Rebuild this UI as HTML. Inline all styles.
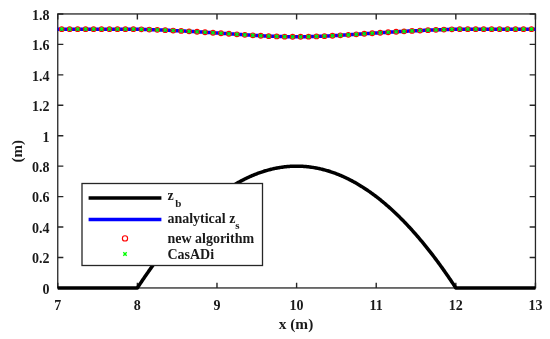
<!DOCTYPE html>
<html><head><meta charset="utf-8"><style>
html,body{margin:0;padding:0;background:#fff;}
body{width:550px;height:339px;overflow:hidden;}
svg{display:block;}
text{font-family:"Liberation Serif",serif;font-weight:bold;font-size:14px;fill:#1a1a1a;}
</style></head><body>
<svg width="550" height="339" viewBox="0 0 550 339">
<rect width="550" height="339" fill="#fff"/>
<rect x="57.75" y="13.95" width="477.70" height="274.00" fill="none" stroke="#262626" stroke-width="1.3"/>
<path d="M57.75,287.95V282.75M57.75,13.95V19.55M137.37,287.95V282.75M137.37,13.95V19.55M216.98,287.95V282.75M216.98,13.95V19.55M296.60,287.95V282.75M296.60,13.95V19.55M376.22,287.95V282.75M376.22,13.95V19.55M455.83,287.95V282.75M455.83,13.95V19.55M535.45,287.95V282.75M535.45,13.95V19.55M57.75,287.95H63.35M535.45,287.95H529.65M57.75,257.51H63.35M535.45,257.51H529.65M57.75,227.06H63.35M535.45,227.06H529.65M57.75,196.62H63.35M535.45,196.62H529.65M57.75,166.17H63.35M535.45,166.17H529.65M57.75,135.73H63.35M535.45,135.73H529.65M57.75,105.28H63.35M535.45,105.28H529.65M57.75,74.84H63.35M535.45,74.84H529.65M57.75,44.39H63.35M535.45,44.39H529.65M57.75,13.95H63.35M535.45,13.95H529.65" stroke="#262626" stroke-width="1.4" fill="none"/>
<polyline points="57.75,287.95 58.55,287.95 59.34,287.95 60.14,287.95 60.93,287.95 61.73,287.95 62.53,287.95 63.32,287.95 64.12,287.95 64.92,287.95 65.71,287.95 66.51,287.95 67.30,287.95 68.10,287.95 68.90,287.95 69.69,287.95 70.49,287.95 71.28,287.95 72.08,287.95 72.88,287.95 73.67,287.95 74.47,287.95 75.27,287.95 76.06,287.95 76.86,287.95 77.65,287.95 78.45,287.95 79.25,287.95 80.04,287.95 80.84,287.95 81.63,287.95 82.43,287.95 83.23,287.95 84.02,287.95 84.82,287.95 85.62,287.95 86.41,287.95 87.21,287.95 88.00,287.95 88.80,287.95 89.60,287.95 90.39,287.95 91.19,287.95 91.99,287.95 92.78,287.95 93.58,287.95 94.37,287.95 95.17,287.95 95.97,287.95 96.76,287.95 97.56,287.95 98.35,287.95 99.15,287.95 99.95,287.95 100.74,287.95 101.54,287.95 102.34,287.95 103.13,287.95 103.93,287.95 104.72,287.95 105.52,287.95 106.32,287.95 107.11,287.95 107.91,287.95 108.70,287.95 109.50,287.95 110.30,287.95 111.09,287.95 111.89,287.95 112.69,287.95 113.48,287.95 114.28,287.95 115.07,287.95 115.87,287.95 116.67,287.95 117.46,287.95 118.26,287.95 119.05,287.95 119.85,287.95 120.65,287.95 121.44,287.95 122.24,287.95 123.04,287.95 123.83,287.95 124.63,287.95 125.42,287.95 126.22,287.95 127.02,287.95 127.81,287.95 128.61,287.95 129.41,287.95 130.20,287.95 131.00,287.95 131.79,287.95 132.59,287.95 133.39,287.95 134.18,287.95 134.98,287.95 135.77,287.95 136.57,287.95 137.37,287.95 138.16,286.74 138.96,285.53 139.76,284.32 140.55,283.13 141.35,281.94 142.14,280.75 142.94,279.57 143.74,278.40 144.53,277.24 145.33,276.08 146.12,274.92 146.92,273.78 147.72,272.63 148.51,271.50 149.31,270.37 150.11,269.24 150.90,268.13 151.70,267.02 152.49,265.91 153.29,264.81 154.09,263.72 154.88,262.63 155.68,261.55 156.47,260.48 157.27,259.41 158.07,258.35 158.86,257.29 159.66,256.24 160.46,255.19 161.25,254.16 162.05,253.12 162.84,252.10 163.64,251.08 164.44,250.06 165.23,249.06 166.03,248.06 166.82,247.06 167.62,246.07 168.42,245.09 169.21,244.11 170.01,243.14 170.81,242.17 171.60,241.21 172.40,240.26 173.19,239.32 173.99,238.37 174.79,237.44 175.58,236.51 176.38,235.59 177.18,234.67 177.97,233.76 178.77,232.86 179.56,231.96 180.36,231.07 181.16,230.18 181.95,229.30 182.75,228.43 183.54,227.56 184.34,226.70 185.14,225.84 185.93,224.99 186.73,224.15 187.53,223.31 188.32,222.48 189.12,221.66 189.91,220.84 190.71,220.03 191.51,219.22 192.30,218.42 193.10,217.62 193.89,216.83 194.69,216.05 195.49,215.28 196.28,214.51 197.08,213.74 197.88,212.98 198.67,212.23 199.47,211.49 200.26,210.75 201.06,210.01 201.86,209.28 202.65,208.56 203.45,207.85 204.24,207.14 205.04,206.44 205.84,205.74 206.63,205.05 207.43,204.36 208.23,203.68 209.02,203.01 209.82,202.34 210.61,201.68 211.41,201.03 212.21,200.38 213.00,199.74 213.80,199.10 214.59,198.47 215.39,197.85 216.19,197.23 216.98,196.62 217.78,196.01 218.58,195.41 219.37,194.82 220.17,194.23 220.96,193.65 221.76,193.07 222.56,192.50 223.35,191.94 224.15,191.38 224.94,190.83 225.74,190.29 226.54,189.75 227.33,189.22 228.13,188.69 228.93,188.17 229.72,187.65 230.52,187.15 231.31,186.64 232.11,186.15 232.91,185.66 233.70,185.17 234.50,184.69 235.30,184.22 236.09,183.76 236.89,183.30 237.68,182.84 238.48,182.40 239.28,181.95 240.07,181.52 240.87,181.09 241.66,180.67 242.46,180.25 243.26,179.84 244.05,179.43 244.85,179.04 245.65,178.64 246.44,178.26 247.24,177.88 248.03,177.50 248.83,177.13 249.63,176.77 250.42,176.41 251.22,176.06 252.01,175.72 252.81,175.38 253.61,175.05 254.40,174.72 255.20,174.40 256.00,174.09 256.79,173.78 257.59,173.48 258.38,173.19 259.18,172.90 259.98,172.61 260.77,172.34 261.57,172.07 262.36,171.80 263.16,171.54 263.96,171.29 264.75,171.04 265.55,170.80 266.35,170.57 267.14,170.34 267.94,170.12 268.73,169.90 269.53,169.69 270.33,169.49 271.12,169.29 271.92,169.10 272.71,168.91 273.51,168.73 274.31,168.56 275.10,168.39 275.90,168.23 276.70,168.07 277.49,167.93 278.29,167.78 279.08,167.65 279.88,167.51 280.68,167.39 281.47,167.27 282.27,167.16 283.07,167.05 283.86,166.95 284.66,166.86 285.45,166.77 286.25,166.69 287.05,166.61 287.84,166.54 288.64,166.48 289.43,166.42 290.23,166.37 291.03,166.32 291.82,166.28 292.62,166.25 293.42,166.22 294.21,166.20 295.01,166.18 295.80,166.18 296.60,166.17 297.40,166.18 298.19,166.18 298.99,166.20 299.78,166.22 300.58,166.25 301.38,166.28 302.17,166.32 302.97,166.37 303.77,166.42 304.56,166.48 305.36,166.54 306.15,166.61 306.95,166.69 307.75,166.77 308.54,166.86 309.34,166.95 310.13,167.05 310.93,167.16 311.73,167.27 312.52,167.39 313.32,167.51 314.12,167.65 314.91,167.78 315.71,167.93 316.50,168.07 317.30,168.23 318.10,168.39 318.89,168.56 319.69,168.73 320.49,168.91 321.28,169.10 322.08,169.29 322.87,169.49 323.67,169.69 324.47,169.90 325.26,170.12 326.06,170.34 326.85,170.57 327.65,170.80 328.45,171.04 329.24,171.29 330.04,171.54 330.84,171.80 331.63,172.07 332.43,172.34 333.22,172.61 334.02,172.90 334.82,173.19 335.61,173.48 336.41,173.78 337.20,174.09 338.00,174.40 338.80,174.72 339.59,175.05 340.39,175.38 341.19,175.72 341.98,176.06 342.78,176.41 343.57,176.77 344.37,177.13 345.17,177.50 345.96,177.88 346.76,178.26 347.55,178.64 348.35,179.04 349.15,179.43 349.94,179.84 350.74,180.25 351.54,180.67 352.33,181.09 353.13,181.52 353.92,181.95 354.72,182.40 355.52,182.84 356.31,183.30 357.11,183.76 357.90,184.22 358.70,184.69 359.50,185.17 360.29,185.66 361.09,186.15 361.89,186.64 362.68,187.15 363.48,187.65 364.27,188.17 365.07,188.69 365.87,189.22 366.66,189.75 367.46,190.29 368.26,190.83 369.05,191.38 369.85,191.94 370.64,192.50 371.44,193.07 372.24,193.65 373.03,194.23 373.83,194.82 374.62,195.41 375.42,196.01 376.22,196.62 377.01,197.23 377.81,197.85 378.61,198.47 379.40,199.10 380.20,199.74 380.99,200.38 381.79,201.03 382.59,201.68 383.38,202.34 384.18,203.01 384.97,203.68 385.77,204.36 386.57,205.05 387.36,205.74 388.16,206.44 388.96,207.14 389.75,207.85 390.55,208.56 391.34,209.28 392.14,210.01 392.94,210.75 393.73,211.49 394.53,212.23 395.32,212.98 396.12,213.74 396.92,214.51 397.71,215.28 398.51,216.05 399.31,216.83 400.10,217.62 400.90,218.42 401.69,219.22 402.49,220.03 403.29,220.84 404.08,221.66 404.88,222.48 405.67,223.31 406.47,224.15 407.27,224.99 408.06,225.84 408.86,226.70 409.66,227.56 410.45,228.43 411.25,229.30 412.04,230.18 412.84,231.07 413.64,231.96 414.43,232.86 415.23,233.76 416.03,234.67 416.82,235.59 417.62,236.51 418.41,237.44 419.21,238.37 420.01,239.32 420.80,240.26 421.60,241.21 422.39,242.17 423.19,243.14 423.99,244.11 424.78,245.09 425.58,246.07 426.38,247.06 427.17,248.06 427.97,249.06 428.76,250.06 429.56,251.08 430.36,252.10 431.15,253.12 431.95,254.16 432.74,255.19 433.54,256.24 434.34,257.29 435.13,258.35 435.93,259.41 436.73,260.48 437.52,261.55 438.32,262.63 439.11,263.72 439.91,264.81 440.71,265.91 441.50,267.02 442.30,268.13 443.09,269.24 443.89,270.37 444.69,271.50 445.48,272.63 446.28,273.78 447.08,274.92 447.87,276.08 448.67,277.24 449.46,278.40 450.26,279.57 451.06,280.75 451.85,281.94 452.65,283.13 453.44,284.32 454.24,285.53 455.04,286.74 455.83,287.95 456.63,287.95 457.43,287.95 458.22,287.95 459.02,287.95 459.81,287.95 460.61,287.95 461.41,287.95 462.20,287.95 463.00,287.95 463.80,287.95 464.59,287.95 465.39,287.95 466.18,287.95 466.98,287.95 467.78,287.95 468.57,287.95 469.37,287.95 470.16,287.95 470.96,287.95 471.76,287.95 472.55,287.95 473.35,287.95 474.15,287.95 474.94,287.95 475.74,287.95 476.53,287.95 477.33,287.95 478.13,287.95 478.92,287.95 479.72,287.95 480.51,287.95 481.31,287.95 482.11,287.95 482.90,287.95 483.70,287.95 484.50,287.95 485.29,287.95 486.09,287.95 486.88,287.95 487.68,287.95 488.48,287.95 489.27,287.95 490.07,287.95 490.86,287.95 491.66,287.95 492.46,287.95 493.25,287.95 494.05,287.95 494.85,287.95 495.64,287.95 496.44,287.95 497.23,287.95 498.03,287.95 498.83,287.95 499.62,287.95 500.42,287.95 501.21,287.95 502.01,287.95 502.81,287.95 503.60,287.95 504.40,287.95 505.20,287.95 505.99,287.95 506.79,287.95 507.58,287.95 508.38,287.95 509.18,287.95 509.97,287.95 510.77,287.95 511.56,287.95 512.36,287.95 513.16,287.95 513.95,287.95 514.75,287.95 515.55,287.95 516.34,287.95 517.14,287.95 517.93,287.95 518.73,287.95 519.53,287.95 520.32,287.95 521.12,287.95 521.92,287.95 522.71,287.95 523.51,287.95 524.30,287.95 525.10,287.95 525.90,287.95 526.69,287.95 527.49,287.95 528.28,287.95 529.08,287.95 529.88,287.95 530.67,287.95 531.47,287.95 532.27,287.95 533.06,287.95 533.86,287.95 534.65,287.95 535.45,287.95" fill="none" stroke="#000" stroke-width="3.5" stroke-linejoin="round"/>
<polyline points="57.75,29.17 58.55,29.17 59.34,29.17 60.14,29.17 60.93,29.17 61.73,29.17 62.53,29.17 63.32,29.17 64.12,29.17 64.92,29.17 65.71,29.17 66.51,29.17 67.30,29.17 68.10,29.17 68.90,29.17 69.69,29.17 70.49,29.17 71.28,29.17 72.08,29.17 72.88,29.17 73.67,29.17 74.47,29.17 75.27,29.17 76.06,29.17 76.86,29.17 77.65,29.17 78.45,29.17 79.25,29.17 80.04,29.17 80.84,29.17 81.63,29.17 82.43,29.17 83.23,29.17 84.02,29.17 84.82,29.17 85.62,29.17 86.41,29.17 87.21,29.17 88.00,29.17 88.80,29.17 89.60,29.17 90.39,29.17 91.19,29.17 91.99,29.17 92.78,29.17 93.58,29.17 94.37,29.17 95.17,29.17 95.97,29.17 96.76,29.17 97.56,29.17 98.35,29.17 99.15,29.17 99.95,29.17 100.74,29.17 101.54,29.17 102.34,29.17 103.13,29.17 103.93,29.17 104.72,29.17 105.52,29.17 106.32,29.17 107.11,29.17 107.91,29.17 108.70,29.17 109.50,29.17 110.30,29.17 111.09,29.17 111.89,29.17 112.69,29.17 113.48,29.17 114.28,29.17 115.07,29.17 115.87,29.17 116.67,29.17 117.46,29.17 118.26,29.17 119.05,29.17 119.85,29.17 120.65,29.17 121.44,29.17 122.24,29.17 123.04,29.17 123.83,29.17 124.63,29.17 125.42,29.17 126.22,29.17 127.02,29.17 127.81,29.17 128.61,29.17 129.41,29.17 130.20,29.17 131.00,29.17 131.79,29.17 132.59,29.17 133.39,29.17 134.18,29.17 134.98,29.17 135.77,29.17 136.57,29.17 137.37,29.17 138.16,29.20 138.96,29.22 139.76,29.25 140.55,29.27 141.35,29.30 142.14,29.32 142.94,29.35 143.74,29.37 144.53,29.40 145.33,29.43 146.12,29.45 146.92,29.48 147.72,29.51 148.51,29.54 149.31,29.57 150.11,29.59 150.90,29.62 151.70,29.65 152.49,29.68 153.29,29.71 154.09,29.74 154.88,29.77 155.68,29.80 156.47,29.83 157.27,29.86 158.07,29.89 158.86,29.92 159.66,29.95 160.46,29.98 161.25,30.02 162.05,30.05 162.84,30.08 163.64,30.11 164.44,30.15 165.23,30.18 166.03,30.22 166.82,30.25 167.62,30.28 168.42,30.32 169.21,30.35 170.01,30.39 170.81,30.42 171.60,30.46 172.40,30.50 173.19,30.53 173.99,30.57 174.79,30.61 175.58,30.64 176.38,30.68 177.18,30.72 177.97,30.76 178.77,30.80 179.56,30.84 180.36,30.87 181.16,30.91 181.95,30.95 182.75,30.99 183.54,31.03 184.34,31.07 185.14,31.12 185.93,31.16 186.73,31.20 187.53,31.24 188.32,31.28 189.12,31.33 189.91,31.37 190.71,31.41 191.51,31.45 192.30,31.50 193.10,31.54 193.89,31.59 194.69,31.63 195.49,31.68 196.28,31.72 197.08,31.77 197.88,31.81 198.67,31.86 199.47,31.90 200.26,31.95 201.06,32.00 201.86,32.04 202.65,32.09 203.45,32.14 204.24,32.19 205.04,32.23 205.84,32.28 206.63,32.33 207.43,32.38 208.23,32.43 209.02,32.48 209.82,32.53 210.61,32.58 211.41,32.63 212.21,32.68 213.00,32.73 213.80,32.78 214.59,32.83 215.39,32.88 216.19,32.93 216.98,32.98 217.78,33.03 218.58,33.08 219.37,33.13 220.17,33.19 220.96,33.24 221.76,33.29 222.56,33.34 223.35,33.39 224.15,33.45 224.94,33.50 225.74,33.55 226.54,33.60 227.33,33.66 228.13,33.71 228.93,33.76 229.72,33.81 230.52,33.87 231.31,33.92 232.11,33.97 232.91,34.02 233.70,34.08 234.50,34.13 235.30,34.18 236.09,34.23 236.89,34.29 237.68,34.34 238.48,34.39 239.28,34.44 240.07,34.49 240.87,34.55 241.66,34.60 242.46,34.65 243.26,34.70 244.05,34.75 244.85,34.80 245.65,34.85 246.44,34.90 247.24,34.95 248.03,35.00 248.83,35.05 249.63,35.10 250.42,35.15 251.22,35.20 252.01,35.24 252.81,35.29 253.61,35.34 254.40,35.39 255.20,35.43 256.00,35.48 256.79,35.52 257.59,35.57 258.38,35.61 259.18,35.66 259.98,35.70 260.77,35.74 261.57,35.78 262.36,35.82 263.16,35.86 263.96,35.90 264.75,35.94 265.55,35.98 266.35,36.02 267.14,36.06 267.94,36.09 268.73,36.13 269.53,36.16 270.33,36.20 271.12,36.23 271.92,36.26 272.71,36.30 273.51,36.33 274.31,36.36 275.10,36.38 275.90,36.41 276.70,36.44 277.49,36.47 278.29,36.49 279.08,36.52 279.88,36.54 280.68,36.56 281.47,36.58 282.27,36.60 283.07,36.62 283.86,36.64 284.66,36.66 285.45,36.67 286.25,36.69 287.05,36.70 287.84,36.72 288.64,36.73 289.43,36.74 290.23,36.75 291.03,36.76 291.82,36.76 292.62,36.77 293.42,36.77 294.21,36.78 295.01,36.78 295.80,36.78 296.60,36.78 297.40,36.78 298.19,36.78 298.99,36.78 299.78,36.77 300.58,36.77 301.38,36.76 302.17,36.76 302.97,36.75 303.77,36.74 304.56,36.73 305.36,36.72 306.15,36.70 306.95,36.69 307.75,36.67 308.54,36.66 309.34,36.64 310.13,36.62 310.93,36.60 311.73,36.58 312.52,36.56 313.32,36.54 314.12,36.52 314.91,36.49 315.71,36.47 316.50,36.44 317.30,36.41 318.10,36.38 318.89,36.36 319.69,36.33 320.49,36.30 321.28,36.26 322.08,36.23 322.87,36.20 323.67,36.16 324.47,36.13 325.26,36.09 326.06,36.06 326.85,36.02 327.65,35.98 328.45,35.94 329.24,35.90 330.04,35.86 330.84,35.82 331.63,35.78 332.43,35.74 333.22,35.70 334.02,35.66 334.82,35.61 335.61,35.57 336.41,35.52 337.20,35.48 338.00,35.43 338.80,35.39 339.59,35.34 340.39,35.29 341.19,35.24 341.98,35.20 342.78,35.15 343.57,35.10 344.37,35.05 345.17,35.00 345.96,34.95 346.76,34.90 347.55,34.85 348.35,34.80 349.15,34.75 349.94,34.70 350.74,34.65 351.54,34.60 352.33,34.55 353.13,34.49 353.92,34.44 354.72,34.39 355.52,34.34 356.31,34.29 357.11,34.23 357.90,34.18 358.70,34.13 359.50,34.08 360.29,34.02 361.09,33.97 361.89,33.92 362.68,33.87 363.48,33.81 364.27,33.76 365.07,33.71 365.87,33.66 366.66,33.60 367.46,33.55 368.26,33.50 369.05,33.45 369.85,33.39 370.64,33.34 371.44,33.29 372.24,33.24 373.03,33.19 373.83,33.13 374.62,33.08 375.42,33.03 376.22,32.98 377.01,32.93 377.81,32.88 378.61,32.83 379.40,32.78 380.20,32.73 380.99,32.68 381.79,32.63 382.59,32.58 383.38,32.53 384.18,32.48 384.97,32.43 385.77,32.38 386.57,32.33 387.36,32.28 388.16,32.23 388.96,32.19 389.75,32.14 390.55,32.09 391.34,32.04 392.14,32.00 392.94,31.95 393.73,31.90 394.53,31.86 395.32,31.81 396.12,31.77 396.92,31.72 397.71,31.68 398.51,31.63 399.31,31.59 400.10,31.54 400.90,31.50 401.69,31.45 402.49,31.41 403.29,31.37 404.08,31.33 404.88,31.28 405.67,31.24 406.47,31.20 407.27,31.16 408.06,31.12 408.86,31.07 409.66,31.03 410.45,30.99 411.25,30.95 412.04,30.91 412.84,30.87 413.64,30.84 414.43,30.80 415.23,30.76 416.03,30.72 416.82,30.68 417.62,30.64 418.41,30.61 419.21,30.57 420.01,30.53 420.80,30.50 421.60,30.46 422.39,30.42 423.19,30.39 423.99,30.35 424.78,30.32 425.58,30.28 426.38,30.25 427.17,30.22 427.97,30.18 428.76,30.15 429.56,30.11 430.36,30.08 431.15,30.05 431.95,30.02 432.74,29.98 433.54,29.95 434.34,29.92 435.13,29.89 435.93,29.86 436.73,29.83 437.52,29.80 438.32,29.77 439.11,29.74 439.91,29.71 440.71,29.68 441.50,29.65 442.30,29.62 443.09,29.59 443.89,29.57 444.69,29.54 445.48,29.51 446.28,29.48 447.08,29.45 447.87,29.43 448.67,29.40 449.46,29.37 450.26,29.35 451.06,29.32 451.85,29.30 452.65,29.27 453.44,29.25 454.24,29.22 455.04,29.20 455.83,29.17 456.63,29.17 457.43,29.17 458.22,29.17 459.02,29.17 459.81,29.17 460.61,29.17 461.41,29.17 462.20,29.17 463.00,29.17 463.80,29.17 464.59,29.17 465.39,29.17 466.18,29.17 466.98,29.17 467.78,29.17 468.57,29.17 469.37,29.17 470.16,29.17 470.96,29.17 471.76,29.17 472.55,29.17 473.35,29.17 474.15,29.17 474.94,29.17 475.74,29.17 476.53,29.17 477.33,29.17 478.13,29.17 478.92,29.17 479.72,29.17 480.51,29.17 481.31,29.17 482.11,29.17 482.90,29.17 483.70,29.17 484.50,29.17 485.29,29.17 486.09,29.17 486.88,29.17 487.68,29.17 488.48,29.17 489.27,29.17 490.07,29.17 490.86,29.17 491.66,29.17 492.46,29.17 493.25,29.17 494.05,29.17 494.85,29.17 495.64,29.17 496.44,29.17 497.23,29.17 498.03,29.17 498.83,29.17 499.62,29.17 500.42,29.17 501.21,29.17 502.01,29.17 502.81,29.17 503.60,29.17 504.40,29.17 505.20,29.17 505.99,29.17 506.79,29.17 507.58,29.17 508.38,29.17 509.18,29.17 509.97,29.17 510.77,29.17 511.56,29.17 512.36,29.17 513.16,29.17 513.95,29.17 514.75,29.17 515.55,29.17 516.34,29.17 517.14,29.17 517.93,29.17 518.73,29.17 519.53,29.17 520.32,29.17 521.12,29.17 521.92,29.17 522.71,29.17 523.51,29.17 524.30,29.17 525.10,29.17 525.90,29.17 526.69,29.17 527.49,29.17 528.28,29.17 529.08,29.17 529.88,29.17 530.67,29.17 531.47,29.17 532.27,29.17 533.06,29.17 533.86,29.17 534.65,29.17 535.45,29.17" fill="none" stroke="#0000ff" stroke-width="3.5"/>
<g fill="none" stroke="#ff0000" stroke-width="1.2"><circle cx="61.73" cy="29.17" r="2.3"/><circle cx="69.69" cy="29.17" r="2.3"/><circle cx="77.65" cy="29.17" r="2.3"/><circle cx="85.62" cy="29.17" r="2.3"/><circle cx="93.58" cy="29.17" r="2.3"/><circle cx="101.54" cy="29.17" r="2.3"/><circle cx="109.50" cy="29.17" r="2.3"/><circle cx="117.46" cy="29.17" r="2.3"/><circle cx="125.42" cy="29.17" r="2.3"/><circle cx="133.39" cy="29.17" r="2.3"/><circle cx="141.35" cy="29.30" r="2.3"/><circle cx="149.31" cy="29.57" r="2.3"/><circle cx="157.27" cy="29.86" r="2.3"/><circle cx="165.23" cy="30.18" r="2.3"/><circle cx="173.19" cy="30.53" r="2.3"/><circle cx="181.16" cy="30.91" r="2.3"/><circle cx="189.12" cy="31.33" r="2.3"/><circle cx="197.08" cy="31.77" r="2.3"/><circle cx="205.04" cy="32.23" r="2.3"/><circle cx="213.00" cy="32.73" r="2.3"/><circle cx="220.96" cy="33.24" r="2.3"/><circle cx="228.93" cy="33.76" r="2.3"/><circle cx="236.89" cy="34.29" r="2.3"/><circle cx="244.85" cy="34.80" r="2.3"/><circle cx="252.81" cy="35.29" r="2.3"/><circle cx="260.77" cy="35.74" r="2.3"/><circle cx="268.73" cy="36.13" r="2.3"/><circle cx="276.70" cy="36.44" r="2.3"/><circle cx="284.66" cy="36.66" r="2.3"/><circle cx="292.62" cy="36.77" r="2.3"/><circle cx="300.58" cy="36.77" r="2.3"/><circle cx="308.54" cy="36.66" r="2.3"/><circle cx="316.50" cy="36.44" r="2.3"/><circle cx="324.47" cy="36.13" r="2.3"/><circle cx="332.43" cy="35.74" r="2.3"/><circle cx="340.39" cy="35.29" r="2.3"/><circle cx="348.35" cy="34.80" r="2.3"/><circle cx="356.31" cy="34.29" r="2.3"/><circle cx="364.27" cy="33.76" r="2.3"/><circle cx="372.24" cy="33.24" r="2.3"/><circle cx="380.20" cy="32.73" r="2.3"/><circle cx="388.16" cy="32.23" r="2.3"/><circle cx="396.12" cy="31.77" r="2.3"/><circle cx="404.08" cy="31.33" r="2.3"/><circle cx="412.04" cy="30.91" r="2.3"/><circle cx="420.01" cy="30.53" r="2.3"/><circle cx="427.97" cy="30.18" r="2.3"/><circle cx="435.93" cy="29.86" r="2.3"/><circle cx="443.89" cy="29.57" r="2.3"/><circle cx="451.85" cy="29.30" r="2.3"/><circle cx="459.81" cy="29.17" r="2.3"/><circle cx="467.78" cy="29.17" r="2.3"/><circle cx="475.74" cy="29.17" r="2.3"/><circle cx="483.70" cy="29.17" r="2.3"/><circle cx="491.66" cy="29.17" r="2.3"/><circle cx="499.62" cy="29.17" r="2.3"/><circle cx="507.58" cy="29.17" r="2.3"/><circle cx="515.55" cy="29.17" r="2.3"/><circle cx="523.51" cy="29.17" r="2.3"/><circle cx="531.47" cy="29.17" r="2.3"/></g>
<path d="M60.13,27.57L63.33,30.77M60.13,30.77L63.33,27.57M68.09,27.57L71.29,30.77M68.09,30.77L71.29,27.57M76.05,27.57L79.25,30.77M76.05,30.77L79.25,27.57M84.02,27.57L87.22,30.77M84.02,30.77L87.22,27.57M91.98,27.57L95.18,30.77M91.98,30.77L95.18,27.57M99.94,27.57L103.14,30.77M99.94,30.77L103.14,27.57M107.90,27.57L111.10,30.77M107.90,30.77L111.10,27.57M115.86,27.57L119.06,30.77M115.86,30.77L119.06,27.57M123.82,27.57L127.02,30.77M123.82,30.77L127.02,27.57M131.79,27.57L134.99,30.77M131.79,30.77L134.99,27.57M139.75,27.70L142.95,30.90M139.75,30.90L142.95,27.70M147.71,27.97L150.91,31.17M147.71,31.17L150.91,27.97M155.67,28.26L158.87,31.46M155.67,31.46L158.87,28.26M163.63,28.58L166.83,31.78M163.63,31.78L166.83,28.58M171.59,28.93L174.79,32.13M171.59,32.13L174.79,28.93M179.56,29.31L182.76,32.51M179.56,32.51L182.76,29.31M187.52,29.73L190.72,32.93M187.52,32.93L190.72,29.73M195.48,30.17L198.68,33.37M195.48,33.37L198.68,30.17M203.44,30.63L206.64,33.83M203.44,33.83L206.64,30.63M211.40,31.13L214.60,34.33M211.40,34.33L214.60,31.13M219.36,31.64L222.56,34.84M219.36,34.84L222.56,31.64M227.33,32.16L230.53,35.36M227.33,35.36L230.53,32.16M235.29,32.69L238.49,35.89M235.29,35.89L238.49,32.69M243.25,33.20L246.45,36.40M243.25,36.40L246.45,33.20M251.21,33.69L254.41,36.89M251.21,36.89L254.41,33.69M259.17,34.14L262.37,37.34M259.17,37.34L262.37,34.14M267.13,34.53L270.33,37.73M267.13,37.73L270.33,34.53M275.10,34.84L278.30,38.04M275.10,38.04L278.30,34.84M283.06,35.06L286.26,38.26M283.06,38.26L286.26,35.06M291.02,35.17L294.22,38.37M291.02,38.37L294.22,35.17M298.98,35.17L302.18,38.37M298.98,38.37L302.18,35.17M306.94,35.06L310.14,38.26M306.94,38.26L310.14,35.06M314.90,34.84L318.10,38.04M314.90,38.04L318.10,34.84M322.87,34.53L326.07,37.73M322.87,37.73L326.07,34.53M330.83,34.14L334.03,37.34M330.83,37.34L334.03,34.14M338.79,33.69L341.99,36.89M338.79,36.89L341.99,33.69M346.75,33.20L349.95,36.40M346.75,36.40L349.95,33.20M354.71,32.69L357.91,35.89M354.71,35.89L357.91,32.69M362.67,32.16L365.87,35.36M362.67,35.36L365.87,32.16M370.64,31.64L373.84,34.84M370.64,34.84L373.84,31.64M378.60,31.13L381.80,34.33M378.60,34.33L381.80,31.13M386.56,30.63L389.76,33.83M386.56,33.83L389.76,30.63M394.52,30.17L397.72,33.37M394.52,33.37L397.72,30.17M402.48,29.73L405.68,32.93M402.48,32.93L405.68,29.73M410.44,29.31L413.64,32.51M410.44,32.51L413.64,29.31M418.41,28.93L421.61,32.13M418.41,32.13L421.61,28.93M426.37,28.58L429.57,31.78M426.37,31.78L429.57,28.58M434.33,28.26L437.53,31.46M434.33,31.46L437.53,28.26M442.29,27.97L445.49,31.17M442.29,31.17L445.49,27.97M450.25,27.70L453.45,30.90M450.25,30.90L453.45,27.70M458.21,27.57L461.41,30.77M458.21,30.77L461.41,27.57M466.18,27.57L469.38,30.77M466.18,30.77L469.38,27.57M474.14,27.57L477.34,30.77M474.14,30.77L477.34,27.57M482.10,27.57L485.30,30.77M482.10,30.77L485.30,27.57M490.06,27.57L493.26,30.77M490.06,30.77L493.26,27.57M498.02,27.57L501.22,30.77M498.02,30.77L501.22,27.57M505.98,27.57L509.18,30.77M505.98,30.77L509.18,27.57M513.95,27.57L517.15,30.77M513.95,30.77L517.15,27.57M521.91,27.57L525.11,30.77M521.91,30.77L525.11,27.57M529.87,27.57L533.07,30.77M529.87,30.77L533.07,27.57" stroke="#00ff00" stroke-width="1.4" fill="none"/>
<g><text x="49.5" y="293.75" text-anchor="end">0</text><text x="49.5" y="263.31" text-anchor="end">0.2</text><text x="49.5" y="232.86" text-anchor="end">0.4</text><text x="49.5" y="202.42" text-anchor="end">0.6</text><text x="49.5" y="171.97" text-anchor="end">0.8</text><text x="49.5" y="141.53" text-anchor="end">1</text><text x="49.5" y="111.08" text-anchor="end">1.2</text><text x="49.5" y="80.64" text-anchor="end">1.4</text><text x="49.5" y="50.19" text-anchor="end">1.6</text><text x="49.5" y="19.75" text-anchor="end">1.8</text></g>
<g><text x="57.75" y="309.5" text-anchor="middle">7</text><text x="137.37" y="309.5" text-anchor="middle">8</text><text x="216.98" y="309.5" text-anchor="middle">9</text><text x="296.60" y="309.5" text-anchor="middle">10</text><text x="376.22" y="309.5" text-anchor="middle">11</text><text x="455.83" y="309.5" text-anchor="middle">12</text><text x="535.45" y="309.5" text-anchor="middle">13</text></g>
<text x="296" y="329" text-anchor="middle" textLength="34.5" lengthAdjust="spacingAndGlyphs">x (m)</text>
<text transform="translate(22.2,151.2) rotate(-90)" text-anchor="middle" textLength="22.4" lengthAdjust="spacingAndGlyphs">(m)</text>
<rect x="82" y="183.5" width="180.5" height="82" fill="#fff" stroke="#262626" stroke-width="1.3"/>
<path d="M88.6,198H161.4" stroke="#000" stroke-width="3.5"/>
<path d="M88.6,219.4H161.4" stroke="#0000ff" stroke-width="3.5"/>
<circle cx="125" cy="238.4" r="2.6" fill="none" stroke="#ff0000" stroke-width="1.15"/>
<path d="M123.30,252.30L126.70,255.70M123.30,255.70L126.70,252.30" stroke="#00ff00" stroke-width="1.4"/>
<text x="167.4" y="200">z<tspan font-size="11" dx="1.6" dy="6.5">b</tspan></text>
<text x="167.4" y="223.2">analytical z<tspan font-size="11" dx="-0.3" dy="6">s</tspan></text>
<text x="167.4" y="243.1">new algorithm</text>
<text x="167.4" y="259.4">CasADi</text>
</svg>
</body></html>
